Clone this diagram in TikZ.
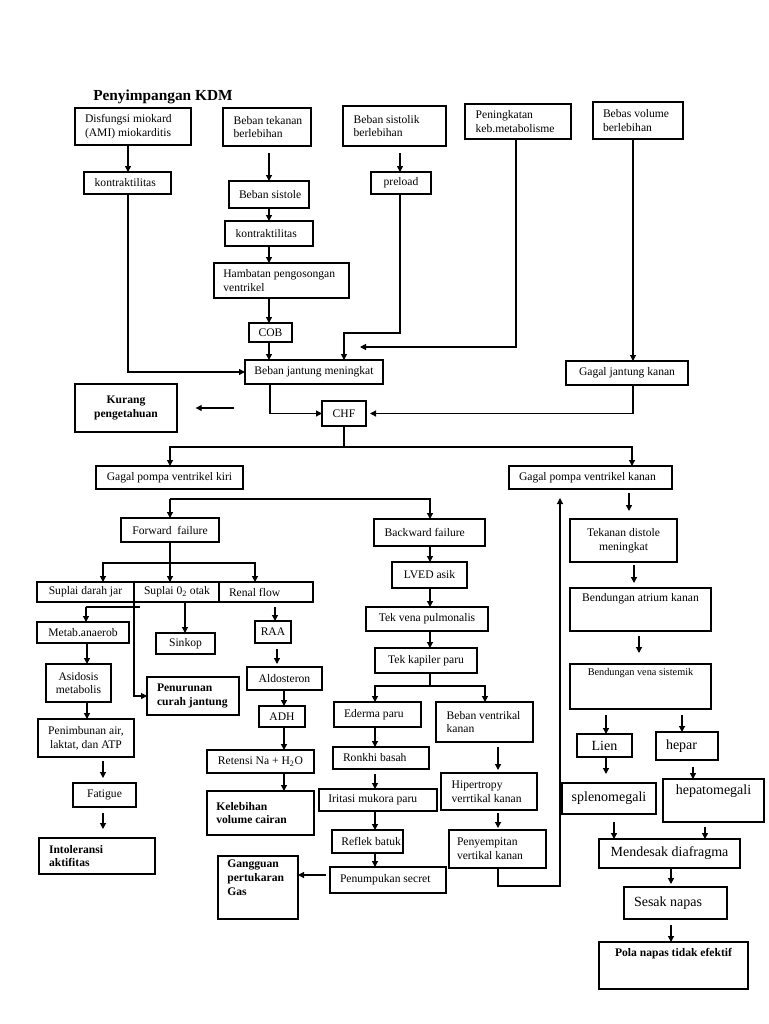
\documentclass[tikz,border=0pt]{standalone}
\usepackage{fontspec}
\setmainfont{Liberation Serif}
\usetikzlibrary{arrows.meta}
\newcommand{\normf}{\fontsize{8.7pt}{10.4pt}\selectfont}
\newcommand{\bigf}{\fontsize{10.5pt}{12.6pt}\selectfont}
\newcommand{\smallf}{\fontsize{7.7pt}{9pt}\selectfont}
\newcommand{\LA}[1][7pt]{\leftskip=#1\rightskip=0pt plus 1fil\relax}
\newcommand{\mybox}[8]{%
 \pgfmathsetmacro{\mbW}{(#4-#2)*0.75}%
 \pgfmathsetmacro{\mbH}{(#5-#3)*0.75}%
 \pgfmathsetmacro{\mbX}{(#2+#4)/2}%
 \pgfmathsetmacro{\mbY}{(#3+#5)/2}%
 \node[box,#6] (#1) at (\mbX,\mbY) {\begin{minipage}[c][\mbH pt][#7]{\mbW pt}#8\end{minipage}};}
\tikzset{
 box/.style={draw, line width=0.9pt, rectangle, inner sep=0pt, outer sep=0pt, font=\normf},
 arr/.style={line width=0.9pt, -{Triangle[length=4.5pt,width=4.5pt]}},
 ln/.style={line width=0.9pt}
}
\begin{document}
\begin{tikzpicture}[x=0.75pt,y=-0.75pt]
\fill[white] (0,0) rectangle (768,1024);
\useasboundingbox (0,0) rectangle (768,1024);

\node[font=\fontsize{11.5pt}{13pt}\selectfont\bfseries, anchor=west, inner sep=0pt] (title) at (93,97) {Penyimpangan KDM};

% boxes
\mybox{dis}{75}{108}{191}{145}{}{c}{\LA[7.5pt]Disfungsi miokard\\(AMI) miokarditis}
\mybox{bt}{223}{108}{311}{146}{}{c}{\LA[8pt]Beban tekanan\\berlebihan}
\mybox{bsl}{343}{106}{446}{146}{}{c}{\LA[8pt]Beban sistolik\\berlebihan}
\mybox{pen}{465}{104}{571}{139}{}{c}{\LA[8pt]Peningkatan\\keb.metabolisme}
\mybox{beb}{593}{102}{683}{139}{}{c}{\LA[7.5pt]Bebas volume\\berlebihan}
\mybox{kon1}{84}{172}{171}{194}{}{c}{\LA[8pt]kontraktilitas}
\mybox{bsis}{229}{181}{309}{208}{}{c}{\LA[7.5pt]Beban sistole}
\mybox{kon2}{225}{221}{313}{246}{}{c}{\LA[8pt]kontraktilitas}
\mybox{pre}{371}{172}{431}{194}{}{c}{\centering preload}
\mybox{hamb}{214}{263}{349}{298}{}{c}{\LA[7pt]Hambatan pengosongan\\ventrikel}
\mybox{cob}{249}{323}{292}{342}{}{c}{\centering COB}
\mybox{bjm}{245}{360}{383}{384}{}{c}{\centering Beban jantung meningkat}
\mybox{gjk}{566}{361}{688}{385}{}{c}{\centering Gagal jantung kanan}
\mybox{kur}{75}{384}{177}{432}{font=\normf\bfseries}{c}{\centering Kurang\\pengetahuan}
\mybox{chf}{322}{401}{366}{426}{}{c}{\centering CHF}
\mybox{gpk}{96}{466}{243}{489}{}{c}{\centering Gagal pompa ventrikel kiri}
\mybox{gpkn}{509}{466}{672}{489}{}{c}{\LA[7.5pt]Gagal pompa ventrikel kanan}
\mybox{ff}{121}{518}{219}{542}{}{c}{\centering Forward\ \ failure}
\mybox{bf}{374}{519}{485}{546}{}{c}{\LA[8pt]Backward failure}
\mybox{lved}{392}{562}{467}{588}{}{c}{\centering LVED asik}
\mybox{tvp}{366}{607}{488}{631}{}{c}{\centering Tek vena pulmonalis}
\mybox{tkp}{375}{648}{477}{673}{}{c}{\centering Tek kapiler paru}
\mybox{sdj}{37}{582}{134}{602}{}{c}{\centering Suplai darah jar}
\mybox{so2}{134}{582}{219}{602}{}{c}{\LA[7.5pt]Suplai 0\textsubscript{2} otak}
\mybox{ren}{219}{582}{313}{602}{}{c}{\LA[7.5pt]Renal flow}
\mybox{met}{37}{622}{129}{643}{}{c}{\centering Metab.anaerob}
\mybox{sin}{156}{633}{215}{654}{}{c}{\centering Sinkop}
\mybox{raa}{255}{621}{291}{643}{}{c}{\centering RAA}
\mybox{asi}{46}{664}{111}{702}{}{c}{\centering Asidosis\\metabolis}
\mybox{pcj}{147}{677}{239}{715}{font=\normf\bfseries}{c}{\LA[7.5pt]Penurunan\\curah jantung}
\mybox{ald}{247}{667}{322}{690}{}{c}{\centering Aldosteron}
\mybox{adh}{259}{706}{305}{727}{}{c}{\centering ADH}
\mybox{pna}{38}{719}{134}{757}{}{c}{\centering Penimbunan air,\\laktat, dan ATP}
\mybox{ret}{207}{750}{314}{773}{}{c}{\centering Retensi Na + H\textsubscript{2}O}
\mybox{fat}{73}{783}{136}{807}{}{c}{\centering Fatigue}
\mybox{kel}{207}{791}{314}{835}{font=\normf\bfseries}{c}{\LA[7pt]Kelebihan\\volume cairan}
\mybox{int}{39}{838}{155}{874}{font=\normf\bfseries}{c}{\LA[7.5pt]Intoleransi\\aktifitas}
\mybox{gan}{218}{856}{298}{919}{font=\normf\bfseries}{t}{\vspace*{3pt}\LA[7pt]Gangguan\\pertukaran\\Gas}
\mybox{ede}{334}{702}{421}{727}{}{c}{\LA[7.5pt]Ederma paru}
\mybox{bvk}{436}{702}{533}{742}{}{c}{\LA[8pt]Beban ventrikal\\kanan}
\mybox{ron}{333}{747}{429}{769}{}{c}{\LA[7.5pt]Ronkhi basah}
\mybox{iri}{319}{789}{437}{811}{}{c}{\LA[7pt]Iritasi mukora paru}
\mybox{hip}{441}{773}{537}{810}{}{c}{\LA[8pt]Hipertropy\\verrtikal kanan}
\mybox{ref}{332}{830}{403}{853}{}{c}{\LA[7pt]Reflek batuk}
\mybox{pny}{449}{830}{546}{868}{}{c}{\LA[6pt]Penyempitan\\vertikal kanan}
\mybox{pns}{330}{867}{446}{893}{}{c}{\LA[7.5pt]Penumpukan secret}
\mybox{tdm}{570}{519}{677}{562}{}{c}{\centering Tekanan distole\\meningkat}
\mybox{bak}{570}{588}{711}{631}{}{t}{\vspace*{4pt}\centering Bendungan atrium kanan}
\mybox{bvs}{570}{664}{711}{709}{font=\smallf}{t}{\vspace*{3pt}\centering Bendungan vena sistemik}
\mybox{lien}{577}{734}{632}{757}{font=\bigf}{c}{\centering Lien}
\mybox{hep}{656}{732}{718}{760}{font=\bigf}{c}{\LA[7.5pt]hepar}
\mybox{spl}{562}{783}{656}{814}{font=\bigf}{c}{\centering splenomegali}
\mybox{hpt}{663}{779}{764}{822}{font=\bigf}{t}{\vspace*{4pt}\centering hepatomegali}
\mybox{mnd}{599}{839}{740}{868}{font=\bigf}{c}{\centering Mendesak diafragma}
\mybox{ssk}{624}{887}{727}{919}{font=\bigf}{c}{\LA[7.5pt]Sesak napas}
\mybox{pola}{599}{942}{748}{989}{font=\normf\bfseries}{t}{\vspace*{5pt}\centering Pola napas tidak efektif}

% top connectors
\draw[arr] (dis.south -| 128,0) -- (kon1.north -| 128,0);
\draw[arr] (kon1.south -| 128,0) |- (bjm.west);
\coordinate (btA) at (269,153);
\draw[arr] (btA) -- (bsis.north -| btA);
\draw[arr] (bsis.south -| 269,0) -- (kon2.north -| 269,0);
\draw[arr] (kon2.south -| 269,0) -- (hamb.north -| 269,0);
\draw[arr] (hamb.south -| 269,0) -- (cob.north -| 269,0);
\draw[arr] (cob.south -| 269,0) -- (bjm.north -| 269,0);
\coordinate (bsA) at (400,153);
\draw[arr] (bsA) -- (pre.north -| bsA);
\draw[arr] (pre.south -| 400,0) |- (344,333) -- (bjm.north -| 344,0);
\coordinate (penA) at (360,347);
\draw[arr] (pen.south -| 516,0) |- (penA);
\draw[arr] (beb.south -| 633,0) -- (gjk.north -| 633,0);
\draw[arr] (gjk.south -| 633,0) |- ([xshift=3pt]chf.east);
\draw[arr] (bjm.south -| 270,0) |- (chf.west);
\coordinate (kurA) at (234,408);
\draw[arr] (kurA) -- ([xshift=14pt]kur.east);

% CHF split
\draw[arr] (chf.south) |- (170,447) -- (gpk.north -| 170,0);
\draw[arr] (chf.south) |- (632,447) -- (gpkn.north -| 632,0);

% left pump split
\coordinate (lp) at (170,499);
\draw[arr] (lp) -- (ff.north -| lp);
\draw[arr] (lp) -| (bf.north -| 430,0);

% forward split
\draw[arr] (ff.south -| 170,0) -- (so2.north -| 170,0);
\draw[arr] (170,563) -| (sdj.north -| 103,0);
\draw[arr] (170,563) -| (ren.north -| 255,0);

% suplai row
\draw[ln] (86,607) -- (140,607);
\draw[arr] (86,607) -- (met.north -| 86,0);
\draw[arr] (sdj.south east) |- (pcj.west);
\draw[arr] (so2.south -| 185,0) -- (sin.north -| 185,0);

% renal chain
\coordinate (rA) at (275,607);
\draw[arr] (rA) -- (raa.north -| rA);
\coordinate (aA) at (277,649);
\coordinate (aB) at (277,664);
\draw[arr] (aA) -- (aB);
\draw[arr] (ald.south -| 284,0) -- (adh.north -| 284,0);
\draw[arr] (adh.south -| 284,0) -- (ret.north -| 284,0);
\draw[arr] (ret.south -| 284,0) -- (kel.north -| 284,0);

% left chain
\draw[arr] (met.south -| 87,0) -- (asi.north -| 87,0);
\draw[arr] (asi.south -| 87,0) -- (pna.north -| 87,0);
\coordinate (fA) at (103,761);
\coordinate (fB) at (103,778);
\draw[arr] (fA) -- (fB);
\coordinate (iA) at (103,813);
\coordinate (iB) at (103,829);
\draw[arr] (iA) -- (iB);

% backward chain
\draw[arr] (bf.south -| 430,0) -- (lved.north -| 430,0);
\draw[arr] (lved.south -| 430,0) -- (tvp.north -| 430,0);
\draw[arr] (tvp.south -| 430,0) -- (tkp.north -| 430,0);
\draw[arr] (tkp.south -| 430,0) |- (375,686) -- (ede.north -| 375,0);
\draw[arr] (430,686) -| (bvk.north -| 485,0);
\draw[arr] (ede.south -| 375,0) -- (ron.north -| 375,0);
\coordinate (rkA) at (375,774);
\draw[arr] (rkA) -- (iri.north -| rkA);
\draw[arr] (iri.south -| 375,0) -- (ref.north -| 375,0);
\draw[arr] (ref.south -| 375,0) -- (pns.north -| 375,0);
\coordinate (pnA) at (326,875);
\draw[arr] (pnA) -- (gan.east |- pnA);
\coordinate (bvA) at (498,747);
\coordinate (bvB) at (498,770);
\draw[arr] (bvA) -- (bvB);
\coordinate (hpA) at (498,813);
\coordinate (hpB) at (498,828);
\draw[arr] (hpA) -- (hpB);
\coordinate (gpA) at (560,498);
\draw[arr] (pny.south -| 498,0) |- (560,886) -- (gpA);

% right chain
\coordinate (gA) at (629,493);
\coordinate (gB) at (629,511);
\draw[arr] (gA) -- (gB);
\coordinate (tA) at (634,565);
\coordinate (tB) at (634,583);
\draw[arr] (tA) -- (tB);
\coordinate (baA) at (639,636);
\coordinate (baB) at (639,653);
\draw[arr] (baA) -- (baB);
\coordinate (vA) at (606,715);
\draw[arr] (vA) -- (lien.north -| vA);
\coordinate (vB) at (682,715);
\draw[arr] (vB) -- (hep.north -| vB);
\coordinate (lB) at (606,774);
\draw[arr] (lien.south -| lB) -- (lB);
\coordinate (hA) at (693,767);
\draw[arr] (hA) -- (hpt.north -| hA);
\coordinate (spA) at (614,822);
\draw[arr] (spA) -- (mnd.north -| spA);
\coordinate (htA) at (705,827);
\draw[arr] (htA) -- (mnd.north -| htA);
\coordinate (mB) at (671,884);
\draw[arr] (mnd.south -| mB) -- (mB);
\coordinate (sA) at (671,925);
\draw[arr] (sA) -- (pola.north -| sA);
\end{tikzpicture}
\end{document}
